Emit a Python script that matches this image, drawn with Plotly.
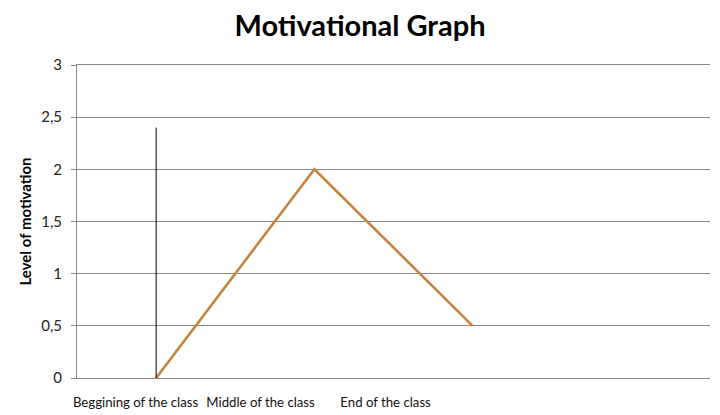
import plotly.graph_objects as go

# chart data
categories = ["Beggining of the class", "Middle of the class", "End of the class", ""]
motivation = [0, 2, 0.5]
y_ticks = [0, 0.5, 1, 1.5, 2, 2.5, 3]
# hand-drawn vertical marker in the original chart
marker_cat = 0
marker_top = 2.4

# the category labels sit left of their points in the original (text box look)
label_shift = [-0.13, -0.34, -0.55]

FONT = "Lato, 'Open Sans', sans-serif"
GRID = "#878787"
PAGE_PAD = 8  # body margin of the html page shifts the figure

x_idx = list(range(len(motivation)))

fig = go.Figure(go.Scatter(
    x=x_idx, y=motivation, mode="lines",
    line=dict(color="#C5843F", width=2.6), hoverinfo="y", showlegend=False))

fig.add_shape(type="line", xref="x", yref="y",
              x0=marker_cat, x1=marker_cat, y0=0, y1=marker_top,
              line=dict(color="black", width=1))

fig.update_layout(
    width=720, height=415, paper_bgcolor="white", plot_bgcolor="white",
    margin=dict(l=77 - PAGE_PAD, r=10 + PAGE_PAD, t=65 - PAGE_PAD, b=37 + PAGE_PAD),
    separators=", ",
    font=dict(family=FONT, color="black", size=14),
    title=dict(text="<b>Motivational Graph</b>", x=(360 - PAGE_PAD) / 720, xanchor="center",
               y=1 - (26 - PAGE_PAD) / 415, yanchor="middle", font=dict(size=29, family=FONT)),
    xaxis=dict(range=[-0.5, len(categories) - 0.5], showgrid=False, zeroline=False,
               tickmode="array",
               tickvals=[i + s for i, s in zip(range(3), label_shift)],
               ticktext=categories[:3], ticks="", showline=True, mirror=True,
               linecolor=GRID, linewidth=1, ticklabelstandoff=12,
               tickfont=dict(size=13.2, color="#111")),
    yaxis=dict(range=[0, 3], tickmode="array", tickvals=y_ticks,
               showgrid=True, gridcolor=GRID, gridwidth=1, zeroline=False,
               showline=True, linecolor=GRID, linewidth=1,
               ticks="outside", ticklen=5, tickcolor=GRID, ticklabelstandoff=6,
               tickfont=dict(size=15, color="#222"),
               title=dict(text="<b>Level of motivation</b>", font=dict(size=15), standoff=5)),
)

fig.write_html("out.html")
